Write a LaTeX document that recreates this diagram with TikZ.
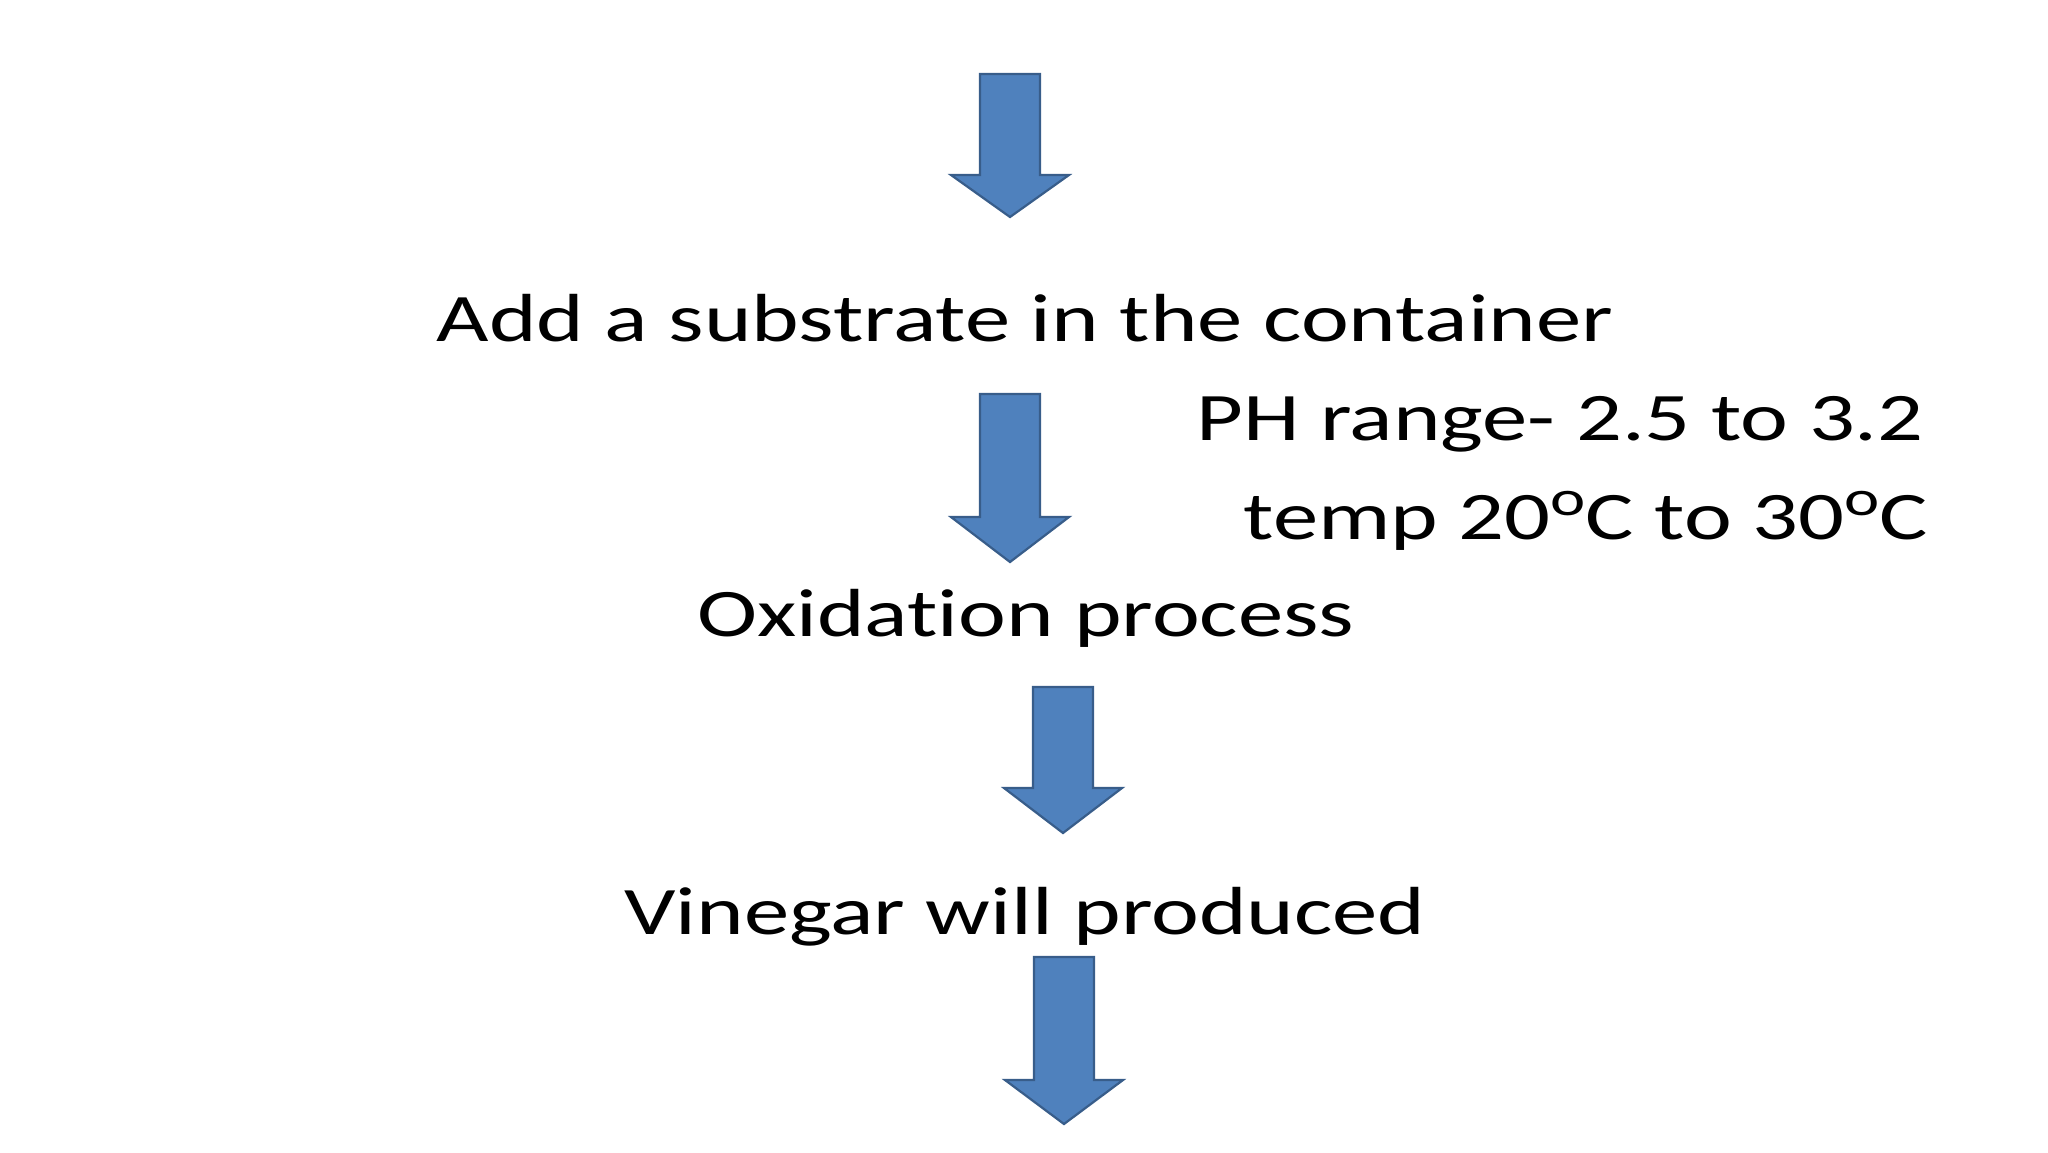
\documentclass[tikz,border=0pt]{standalone}
\usepackage{fontspec}
\setmainfont{Carlito}[Ligatures=CommonOff]
\usepackage{graphicx}
\definecolor{arrfill}{HTML}{4F81BD}
\definecolor{arrline}{HTML}{385D8A}
\tikzset{
  blockarrow/.style={fill=arrfill, draw=arrline, line width=2.2bp, line join=miter},
  lbl/.style={inner sep=0pt, text=black, font=\fontsize{68bp}{80bp}\selectfont}
}
\newcommand{\stretchtxt}[1]{\scalebox{1.333}[1]{#1}}
\newcommand{\dego}{\raisebox{24bp}{\fontsize{50bp}{54bp}\selectfont o}}
% #1 centre x, #2 top y, #3 shoulder y, #4 tip y
\newcommand{\blockarr}[4]{%
  \draw[blockarrow] ({#1-30},{#2}) -- ({#1+30},{#2}) -- ({#1+30},{#3}) -- ({#1+59},{#3})
     -- ({#1},{#4}) -- ({#1-59},{#3}) -- ({#1-30},{#3}) -- cycle;}
\begin{document}
\begin{tikzpicture}[x=1bp,y=-1bp]
\useasboundingbox[fill=white] (0,0) rectangle (2048,1152);
\blockarr{1010}{74}{175}{217}
\node[lbl, anchor=base] (add) at (1025,341) {\stretchtxt{Add a substrate in the container}};
\blockarr{1010}{394}{517}{562}
\node[lbl, anchor=base east] (ph) at (1924,440) {\stretchtxt{PH range- 2.5 to 3.2}};
\node[lbl, anchor=base east] (temp) at (1928,539) {\stretchtxt{temp 20\dego C to 30\dego C}};
\node[lbl, anchor=base] (ox) at (1026,636) {\stretchtxt{Oxidation process}};
\blockarr{1063}{687}{788}{833}
\node[lbl, anchor=base] (vin) at (1025,934) {\stretchtxt{Vinegar will produced}};
\blockarr{1064}{957}{1080}{1124}
\end{tikzpicture}
\end{document}
